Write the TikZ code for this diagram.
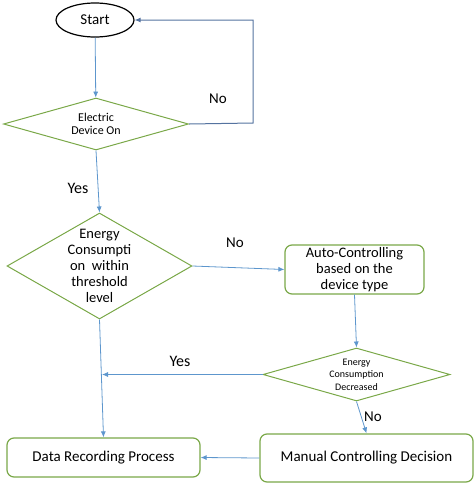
\documentclass[tikz,border=0pt]{standalone}
\usepackage{fontspec}
\setmainfont{Carlito}
\usetikzlibrary{shapes.geometric,arrows.meta}
\definecolor{grn}{RGB}{122,168,72}
\definecolor{blu}{RGB}{93,150,205}
\definecolor{dblu}{RGB}{85,115,160}
\begin{document}
\begin{tikzpicture}[x=1pt,y=-1pt,
  conn/.style={draw=blu, line width=0.8pt, -{Latex[length=6pt,width=5pt]}},
  dec/.style={diamond, draw=grn, line width=1pt, inner sep=0pt},
  proc/.style={rectangle, rounded corners=7pt, draw=grn, line width=1.2pt, align=center, inner sep=0pt},
  lab/.style={font=\fontsize{15}{17}\selectfont, inner sep=0pt}
]
\useasboundingbox (0,0) rectangle (474,483);
\node[ellipse, draw=black, line width=1.2pt, minimum width=78pt, minimum height=34pt, inner sep=0pt, font=\fontsize{15}{17}\selectfont] (start) at (95,20) {Start};
\node[dec, minimum width=185pt, minimum height=52pt,
  label={[align=center,font=\fontsize{12}{12.5}\selectfont]center:Electric\\Device On}] (d1) at (96,124) {};
\node[dec, minimum width=185pt, minimum height=106pt,
  label={[align=center,font=\fontsize{14.5}{16}\selectfont]center:Energy\\Consumpti\\on\ \ within\\threshold\\level}] (d2) at (99.5,266) {};
\node[proc, minimum width=139pt, minimum height=49pt, font=\fontsize{14.5}{16}\selectfont] (auto) at (354.5,269.5) {Auto-Controlling\\based on the\\device type};
\node[dec, minimum width=187pt, minimum height=53pt,
  label={[align=center,font=\fontsize{10}{12.5}\selectfont]center:Energy\\Consumption\\Decreased}] (d3) at (356.5,374.5) {};
\node[proc, minimum width=193pt, minimum height=39pt, font=\fontsize{15}{17}\selectfont] (data) at (103.5,457.5) {Data Recording Process};
\node[proc, minimum width=213pt, minimum height=48pt, font=\fontsize{15}{17}\selectfont] (man) at (366.5,458) {Manual Controlling Decision};
\coordinate (loopA) at (253,123);
\coordinate (loopB) at (253,20);
\coordinate (yesend) at (102,374.5);
% connectors
\draw[conn] (start) -- (d1);
\draw[draw=dblu, line width=1pt, -{Latex[length=6pt,width=5pt]}] (d1.east) -- (loopA) -- (loopB) -- (start.east);
\draw[conn] (d1.south) -- (d2.north);
\draw[conn] (d2.east) -- (auto.west);
\draw[conn] (auto.south) -- (d3.north);
\draw[conn] (d3.west) -- (yesend);
\draw[conn] (d2.south) -- (data.north);
\draw[conn] (d3.south) -- (man.north);
\draw[conn] (man.west) -- (data.east);
% labels
\node[lab] (lno1) at (218,99) {No};
\node[lab, font=\fontsize{16}{18}\selectfont] (lyes1) at (78,188) {Yes};
\node[lab] (lno2) at (235,243) {No};
\node[lab, font=\fontsize{16}{18}\selectfont] (lyes2) at (180,361) {Yes};
\node[lab] (lno3) at (373,417) {No};
\end{tikzpicture}
\end{document}
